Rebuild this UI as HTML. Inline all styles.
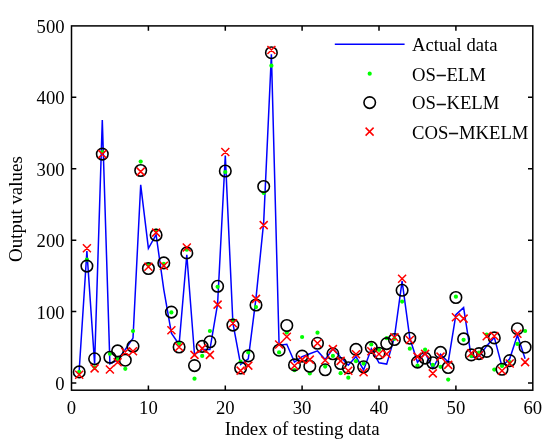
<!DOCTYPE html>
<html><head><meta charset="utf-8"><title>Plot</title><style>html,body{margin:0;padding:0;background:#fff}svg{display:block}</style></head><body>
<svg width="550" height="446" viewBox="0 0 550 446">
<rect width="550" height="446" fill="#fff"/>
<polyline points="79.2,370.2 86.9,251.1 94.6,363.8 102.3,119.9 109.9,363.8 117.6,360.2 125.3,349.5 133.0,338.1 140.7,184.8 148.4,248.3 156.1,234.7 163.8,289.6 171.4,333.1 179.1,344.5 186.8,254.7 194.5,354.5 202.2,349.5 209.9,349.5 217.6,303.9 225.3,155.6 232.9,323.1 240.6,364.5 248.3,358.8 256.0,298.2 263.7,221.9 271.4,54.3 279.1,345.2 286.8,344.2 294.5,362.0 302.1,356.6 309.8,353.8 317.5,350.9 325.2,359.5 332.9,348.8 340.6,357.3 348.3,365.2 356.0,356.6 363.6,369.9 371.3,348.8 379.0,362.8 386.7,364.1 394.4,337.4 402.1,281.1 409.8,338.1 417.5,362.3 425.1,352.6 432.8,368.3 440.5,354.2 448.2,362.1 455.9,314.7 463.6,307.6 471.3,357.3 479.0,356.6 486.7,345.9 494.3,337.4 502.0,366.6 509.7,358.8 517.4,335.2 525.1,358.8" fill="none" stroke="#0000ff" stroke-width="1.5" stroke-linejoin="miter"/>
<g fill="#00ff00">
<circle cx="79.2" cy="371.9" r="2.1"/>
<circle cx="86.9" cy="259.7" r="2.1"/>
<circle cx="94.6" cy="367.3" r="2.1"/>
<circle cx="102.3" cy="152.0" r="2.1"/>
<circle cx="109.9" cy="353.8" r="2.1"/>
<circle cx="117.6" cy="358.8" r="2.1"/>
<circle cx="125.3" cy="368.8" r="2.1"/>
<circle cx="133.0" cy="331.1" r="2.1"/>
<circle cx="140.7" cy="161.6" r="2.1"/>
<circle cx="148.4" cy="264.7" r="2.1"/>
<circle cx="156.1" cy="230.6" r="2.1"/>
<circle cx="163.8" cy="263.9" r="2.1"/>
<circle cx="171.4" cy="312.4" r="2.1"/>
<circle cx="179.1" cy="343.4" r="2.1"/>
<circle cx="186.8" cy="249.7" r="2.1"/>
<circle cx="194.5" cy="378.7" r="2.1"/>
<circle cx="202.2" cy="355.9" r="2.1"/>
<circle cx="209.9" cy="331.0" r="2.1"/>
<circle cx="217.6" cy="286.8" r="2.1"/>
<circle cx="225.3" cy="172.0" r="2.1"/>
<circle cx="232.9" cy="320.3" r="2.1"/>
<circle cx="240.6" cy="361.6" r="2.1"/>
<circle cx="248.3" cy="352.5" r="2.1"/>
<circle cx="256.0" cy="307.1" r="2.1"/>
<circle cx="263.7" cy="193.0" r="2.1"/>
<circle cx="271.4" cy="65.7" r="2.1"/>
<circle cx="279.1" cy="352.4" r="2.1"/>
<circle cx="286.8" cy="332.6" r="2.1"/>
<circle cx="294.5" cy="370.2" r="2.1"/>
<circle cx="302.1" cy="337.0" r="2.1"/>
<circle cx="309.8" cy="373.5" r="2.1"/>
<circle cx="317.5" cy="332.7" r="2.1"/>
<circle cx="325.2" cy="366.6" r="2.1"/>
<circle cx="332.9" cy="355.9" r="2.1"/>
<circle cx="340.6" cy="373.2" r="2.1"/>
<circle cx="348.3" cy="377.7" r="2.1"/>
<circle cx="356.0" cy="361.2" r="2.1"/>
<circle cx="363.6" cy="363.6" r="2.1"/>
<circle cx="371.3" cy="344.5" r="2.1"/>
<circle cx="379.0" cy="349.8" r="2.1"/>
<circle cx="386.7" cy="338.2" r="2.1"/>
<circle cx="394.4" cy="338.8" r="2.1"/>
<circle cx="402.1" cy="301.6" r="2.1"/>
<circle cx="409.8" cy="348.7" r="2.1"/>
<circle cx="417.5" cy="365.5" r="2.1"/>
<circle cx="425.1" cy="349.5" r="2.1"/>
<circle cx="432.8" cy="364.9" r="2.1"/>
<circle cx="440.5" cy="366.8" r="2.1"/>
<circle cx="448.2" cy="379.6" r="2.1"/>
<circle cx="455.9" cy="296.7" r="2.1"/>
<circle cx="463.6" cy="339.8" r="2.1"/>
<circle cx="471.3" cy="356.1" r="2.1"/>
<circle cx="479.0" cy="352.6" r="2.1"/>
<circle cx="486.7" cy="334.5" r="2.1"/>
<circle cx="494.3" cy="369.6" r="2.1"/>
<circle cx="502.0" cy="365.9" r="2.1"/>
<circle cx="509.7" cy="362.1" r="2.1"/>
<circle cx="517.4" cy="343.9" r="2.1"/>
<circle cx="525.1" cy="331.0" r="2.1"/>
</g>
<g fill="none" stroke="#000" stroke-width="1.6">
<circle cx="79.2" cy="371.9" r="5.75"/>
<circle cx="86.9" cy="266.1" r="5.75"/>
<circle cx="94.6" cy="358.8" r="5.75"/>
<circle cx="102.3" cy="154.1" r="5.75"/>
<circle cx="109.9" cy="357.3" r="5.75"/>
<circle cx="117.6" cy="350.9" r="5.75"/>
<circle cx="125.3" cy="360.2" r="5.75"/>
<circle cx="133.0" cy="346.3" r="5.75"/>
<circle cx="140.7" cy="170.5" r="5.75"/>
<circle cx="148.4" cy="268.5" r="5.75"/>
<circle cx="156.1" cy="235.0" r="5.75"/>
<circle cx="163.8" cy="262.9" r="5.75"/>
<circle cx="171.4" cy="312.1" r="5.75"/>
<circle cx="179.1" cy="347.0" r="5.75"/>
<circle cx="186.8" cy="252.9" r="5.75"/>
<circle cx="194.5" cy="365.6" r="5.75"/>
<circle cx="202.2" cy="346.4" r="5.75"/>
<circle cx="209.9" cy="341.8" r="5.75"/>
<circle cx="217.6" cy="286.3" r="5.75"/>
<circle cx="225.3" cy="171.0" r="5.75"/>
<circle cx="232.9" cy="325.1" r="5.75"/>
<circle cx="240.6" cy="368.0" r="5.75"/>
<circle cx="248.3" cy="355.9" r="5.75"/>
<circle cx="256.0" cy="305.0" r="5.75"/>
<circle cx="263.7" cy="186.5" r="5.75"/>
<circle cx="271.4" cy="52.7" r="5.75"/>
<circle cx="279.1" cy="350.2" r="5.75"/>
<circle cx="286.8" cy="325.5" r="5.75"/>
<circle cx="294.5" cy="364.9" r="5.75"/>
<circle cx="302.1" cy="356.1" r="5.75"/>
<circle cx="309.8" cy="366.3" r="5.75"/>
<circle cx="317.5" cy="343.3" r="5.75"/>
<circle cx="325.2" cy="369.8" r="5.75"/>
<circle cx="332.9" cy="353.8" r="5.75"/>
<circle cx="340.6" cy="363.5" r="5.75"/>
<circle cx="348.3" cy="367.8" r="5.75"/>
<circle cx="356.0" cy="349.4" r="5.75"/>
<circle cx="363.6" cy="366.8" r="5.75"/>
<circle cx="371.3" cy="347.4" r="5.75"/>
<circle cx="379.0" cy="353.2" r="5.75"/>
<circle cx="386.7" cy="343.6" r="5.75"/>
<circle cx="394.4" cy="339.5" r="5.75"/>
<circle cx="402.1" cy="290.3" r="5.75"/>
<circle cx="409.8" cy="338.2" r="5.75"/>
<circle cx="417.5" cy="362.1" r="5.75"/>
<circle cx="425.1" cy="358.1" r="5.75"/>
<circle cx="432.8" cy="362.8" r="5.75"/>
<circle cx="440.5" cy="352.4" r="5.75"/>
<circle cx="448.2" cy="367.5" r="5.75"/>
<circle cx="455.9" cy="297.5" r="5.75"/>
<circle cx="463.6" cy="338.9" r="5.75"/>
<circle cx="471.3" cy="354.9" r="5.75"/>
<circle cx="479.0" cy="353.6" r="5.75"/>
<circle cx="486.7" cy="351.4" r="5.75"/>
<circle cx="494.3" cy="337.9" r="5.75"/>
<circle cx="502.0" cy="369.3" r="5.75"/>
<circle cx="509.7" cy="360.6" r="5.75"/>
<circle cx="517.4" cy="328.7" r="5.75"/>
<circle cx="525.1" cy="347.2" r="5.75"/>
</g>
<path d="M75.2 370.8l8.0 8.0M75.2 378.8l8.0 -8.0M82.9 244.3l8.0 8.0M82.9 252.3l8.0 -8.0M90.6 364.4l8.0 8.0M90.6 372.4l8.0 -8.0M98.3 150.1l8.0 8.0M98.3 158.1l8.0 -8.0M105.9 365.5l8.0 8.0M105.9 373.5l8.0 -8.0M113.6 358.3l8.0 8.0M113.6 366.3l8.0 -8.0M121.3 348.0l8.0 8.0M121.3 356.0l8.0 -8.0M129.0 347.3l8.0 8.0M129.0 355.3l8.0 -8.0M136.7 167.6l8.0 8.0M136.7 175.6l8.0 -8.0M144.4 262.8l8.0 8.0M144.4 270.8l8.0 -8.0M152.1 228.6l8.0 8.0M152.1 236.6l8.0 -8.0M159.8 261.7l8.0 8.0M159.8 269.7l8.0 -8.0M167.4 326.3l8.0 8.0M167.4 334.3l8.0 -8.0M175.1 343.0l8.0 8.0M175.1 351.0l8.0 -8.0M182.8 243.5l8.0 8.0M182.8 251.5l8.0 -8.0M190.5 350.9l8.0 8.0M190.5 358.9l8.0 -8.0M198.2 344.4l8.0 8.0M198.2 352.4l8.0 -8.0M205.9 350.9l8.0 8.0M205.9 358.9l8.0 -8.0M213.6 300.6l8.0 8.0M213.6 308.6l8.0 -8.0M221.3 148.0l8.0 8.0M221.3 156.0l8.0 -8.0M228.9 319.2l8.0 8.0M228.9 327.2l8.0 -8.0M236.6 366.6l8.0 8.0M236.6 374.6l8.0 -8.0M244.3 361.6l8.0 8.0M244.3 369.6l8.0 -8.0M252.0 294.9l8.0 8.0M252.0 302.9l8.0 -8.0M259.7 221.1l8.0 8.0M259.7 229.1l8.0 -8.0M267.4 46.0l8.0 8.0M267.4 54.0l8.0 -8.0M275.1 340.5l8.0 8.0M275.1 348.5l8.0 -8.0M282.8 332.7l8.0 8.0M282.8 340.7l8.0 -8.0M290.5 361.8l8.0 8.0M290.5 369.8l8.0 -8.0M298.1 355.6l8.0 8.0M298.1 363.6l8.0 -8.0M305.8 355.6l8.0 8.0M305.8 363.6l8.0 -8.0M313.5 339.3l8.0 8.0M313.5 347.3l8.0 -8.0M321.2 356.2l8.0 8.0M321.2 364.2l8.0 -8.0M328.9 345.1l8.0 8.0M328.9 353.1l8.0 -8.0M336.6 356.9l8.0 8.0M336.6 364.9l8.0 -8.0M344.3 366.7l8.0 8.0M344.3 374.7l8.0 -8.0M352.0 350.3l8.0 8.0M352.0 358.3l8.0 -8.0M359.6 368.2l8.0 8.0M359.6 376.2l8.0 -8.0M367.3 347.3l8.0 8.0M367.3 355.3l8.0 -8.0M375.0 350.0l8.0 8.0M375.0 358.0l8.0 -8.0M382.7 350.0l8.0 8.0M382.7 358.0l8.0 -8.0M390.4 333.2l8.0 8.0M390.4 341.2l8.0 -8.0M398.1 274.8l8.0 8.0M398.1 282.8l8.0 -8.0M405.8 336.0l8.0 8.0M405.8 344.0l8.0 -8.0M413.5 352.6l8.0 8.0M413.5 360.6l8.0 -8.0M421.1 349.9l8.0 8.0M421.1 357.9l8.0 -8.0M428.8 369.4l8.0 8.0M428.8 377.4l8.0 -8.0M436.5 352.6l8.0 8.0M436.5 360.6l8.0 -8.0M444.2 360.9l8.0 8.0M444.2 368.9l8.0 -8.0M451.9 313.3l8.0 8.0M451.9 321.3l8.0 -8.0M459.6 314.6l8.0 8.0M459.6 322.6l8.0 -8.0M467.3 349.2l8.0 8.0M467.3 357.2l8.0 -8.0M475.0 351.2l8.0 8.0M475.0 359.2l8.0 -8.0M482.7 332.3l8.0 8.0M482.7 340.3l8.0 -8.0M490.3 332.0l8.0 8.0M490.3 340.0l8.0 -8.0M498.0 366.7l8.0 8.0M498.0 374.7l8.0 -8.0M505.7 359.5l8.0 8.0M505.7 367.5l8.0 -8.0M513.4 329.8l8.0 8.0M513.4 337.8l8.0 -8.0M521.1 358.1l8.0 8.0M521.1 366.1l8.0 -8.0" fill="none" stroke="#ff0000" stroke-width="1.5"/>
<g stroke="#000" stroke-width="1.5" fill="none">
<rect x="71.5" y="25.9" width="461.3" height="364.3"/>
<path d="M148.4 390.2v-4.8M148.4 25.9v4.8M225.3 390.2v-4.8M225.3 25.9v4.8M302.1 390.2v-4.8M302.1 25.9v4.8M379.0 390.2v-4.8M379.0 25.9v4.8M455.9 390.2v-4.8M455.9 25.9v4.8M71.5 383.0h4.8M532.8 383.0h-4.8M71.5 311.6h4.8M532.8 311.6h-4.8M71.5 240.2h4.8M532.8 240.2h-4.8M71.5 168.7h4.8M532.8 168.7h-4.8M71.5 97.3h4.8M532.8 97.3h-4.8"/>
</g>
<g font-family="'Liberation Serif', 'Times New Roman', serif" font-size="18.7" fill="#000">
<text x="71.5" y="414.0" text-anchor="middle">0</text>
<text x="148.4" y="414.0" text-anchor="middle">10</text>
<text x="225.3" y="414.0" text-anchor="middle">20</text>
<text x="302.1" y="414.0" text-anchor="middle">30</text>
<text x="379.0" y="414.0" text-anchor="middle">40</text>
<text x="455.9" y="414.0" text-anchor="middle">50</text>
<text x="532.8" y="414.0" text-anchor="middle">60</text>
<text x="64.6" y="390.0" text-anchor="end">0</text>
<text x="64.6" y="318.6" text-anchor="end">100</text>
<text x="64.6" y="247.2" text-anchor="end">200</text>
<text x="64.6" y="175.7" text-anchor="end">300</text>
<text x="64.6" y="104.3" text-anchor="end">400</text>
<text x="64.6" y="32.9" text-anchor="end">500</text>
</g><g font-family="'Liberation Serif', 'Times New Roman', serif" font-size="18.7" fill="#000">
<text x="302.2" y="435.4" text-anchor="middle" font-size="18.95">Index of testing data</text>
<text transform="translate(22.1,209.1) rotate(-90)" text-anchor="middle" font-size="18.95">Output values</text>
<text x="412.0" y="50.5">Actual data</text>
<text x="412.0" y="80.5">OS<tspan dy="1.3" stroke="#000" stroke-width="0.5">−</tspan><tspan dy="-1.3">ELM</tspan></text>
<text x="412.0" y="109.3">OS<tspan dy="1.3" stroke="#000" stroke-width="0.5">−</tspan><tspan dy="-1.3">KELM</tspan></text>
<text x="412.0" y="138.6">COS<tspan dy="1.3" stroke="#000" stroke-width="0.5">−</tspan><tspan dy="-1.3">MKELM</tspan></text>
</g>
<path d="M334.8 44.3H404.6" stroke="#0000ff" stroke-width="1.5" fill="none"/>
<circle cx="369.7" cy="73.7" r="2.1" fill="#00ff00"/>
<circle cx="369.7" cy="102.6" r="5.75" fill="none" stroke="#000" stroke-width="1.6"/>
<path d="M365.6 127.6l8.0 8.0M365.6 135.6l8.0 -8.0" stroke="#ff0000" stroke-width="1.5" fill="none"/>
</svg>
</body></html>
